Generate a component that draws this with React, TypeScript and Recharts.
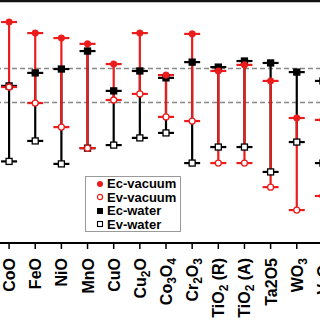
import {
  ComposedChart,
  ErrorBar,
  Legend,
  Line,
  ReferenceLine,
  XAxis,
  YAxis,
} from 'recharts'

// Band edges (eV vs vacuum) for each oxide, in vacuum and in water.
// `_n` in a name marks a subscript digit in the axis label.
const oxides = [
  'CoO', 'FeO', 'NiO', 'MnO', 'CuO', 'Cu_2O', 'Co_3O_4', 'Cr_2O_3',
  'TiO_2 (R)', 'TiO_2 (A)', 'Ta2O5', 'WO_3', 'V_2O_5',
]
const ecVacuum = [-2.76, -3.16, -3.34, -3.55, -4.28, -3.16, -4.68, -3.19, -4.53, -4.31, -4.89, -6.23, -6.3]
const evVacuum = [-5.11, -5.69, -6.56, -7.32, -5.58, -5.36, -6.19, -6.34, -7.86, -7.86, -8.73, -9.56, -9.05]
const ecWater = [-5.07, -4.6, -4.46, -3.81, -5.25, -4.53, -4.78, -4.21, -4.39, -4.17, -4.24, -4.57, -4.89]
const evWater = [-7.8, -7.06, -7.89, -7.32, -7.21, -6.95, -6.77, -7.86, -7.28, -7.28, -8.18, -7.1, -7.86]

// water redox levels: H+/H2 and O2/H2O
const redoxLevels = [-4.44, -5.67]
const yDomain: [number, number] = [-10.75, -2]

const RED = '#ec1c1c'
const FONT = '"Liberation Sans", Arial, sans-serif'

// ErrorBar wants a centre value plus a half-span, so each band is stored as
// its midpoint with a symmetric error.
const data = oxides.map((name, i) => ({
  name,
  ecVac: ecVacuum[i],
  evVac: evVacuum[i],
  ecW: ecWater[i],
  evW: evWater[i],
  vacMid: (ecVacuum[i] + evVacuum[i]) / 2,
  vacErr: (ecVacuum[i] - evVacuum[i]) / 2,
  wMid: (ecWater[i] + evWater[i]) / 2,
  wErr: (ecWater[i] - evWater[i]) / 2,
}))

function OxideTick({ x, y, payload }: any) {
  const parts = String(payload.value).split(/(_\d)/).filter(Boolean)
  const ax = x + 6
  const ay = y + 9
  let sub = false
  return (
    <text
      x={ax}
      y={ay}
      transform={`rotate(-90, ${ax}, ${ay})`}
      textAnchor="end"
      fontFamily={FONT}
      fontWeight="bold"
      fontSize={16}
      fill="#000"
    >
      {parts.map((p, k) => {
        if (p.startsWith('_')) {
          sub = true
          return (
            <tspan key={k} dy={4} fontSize={12}>
              {p.slice(1)}
            </tspan>
          )
        }
        const dy = sub ? -4 : 0
        sub = false
        return (
          <tspan key={k} dy={dy}>
            {p}
          </tspan>
        )
      })}
    </text>
  )
}

const squareDot = (filled: boolean) => (props: any) => {
  const { cx, cy, index } = props
  if (cx == null || cy == null) return <g key={index} />
  return (
    <rect
      key={index}
      x={cx - 3}
      y={cy - 3}
      width={6}
      height={6}
      fill={filled ? '#000' : '#fff'}
      stroke="#000"
      strokeWidth={1.3}
    />
  )
}

const legendItems = [
  { label: 'Ec-vacuum', marker: <circle cx={4} cy={4} r={3} fill={RED} /> },
  { label: 'Ev-vacuum', marker: <circle cx={4} cy={4} r={2.6} fill="#fff" stroke={RED} strokeWidth={1.2} /> },
  { label: 'Ec-water', marker: <rect x={1} y={1} width={6} height={6} fill="#000" /> },
  { label: 'Ev-water', marker: <rect x={1.5} y={1.5} width={5} height={5} fill="#fff" stroke="#000" strokeWidth={1.1} /> },
]

function BandLegend() {
  return (
    <div
      style={{
        width: 96,
        height: 56,
        boxSizing: 'border-box',
        border: '1px solid #9a9a9a',
        background: '#fff',
        fontFamily: FONT,
        fontWeight: 'bold',
        fontSize: 13,
        color: '#000',
      }}
    >
      {legendItems.map((it) => (
        <div key={it.label} style={{ display: 'flex', alignItems: 'center', height: 13.5, lineHeight: '13.5px' }}>
          <svg width={8} height={8} style={{ marginLeft: 10, marginRight: 3 }}>
            {it.marker}
          </svg>
          <span>{it.label}</span>
        </div>
      ))}
    </div>
  )
}

export default function App() {
  return (
    <div style={{ position: 'fixed', left: -4, top: 0, width: 340, height: 320, background: '#fff' }}>
      <ComposedChart width={340} height={320} data={data} margin={{ top: 1, right: 0, bottom: 0, left: 0 }}>
        <XAxis
          dataKey="name"
          scale="band"
          interval={0}
          height={77}
          tickSize={6}
          tickMargin={0}
          axisLine={{ stroke: '#000', strokeWidth: 2 }}
          tickLine={{ stroke: '#000', strokeWidth: 1.5 }}
          tick={<OxideTick />}
        />
        <YAxis hide type="number" domain={yDomain} allowDataOverflow />
        <ReferenceLine y={yDomain[1]} stroke="#111" strokeWidth={2.5} />
        {redoxLevels.map((v) => (
          <ReferenceLine key={v} y={v} stroke="#888" strokeWidth={1.3} strokeDasharray="5 3" />
        ))}

        {/* vertical band spans with end caps */}
        <Line dataKey="wMid" stroke="none" dot={false} activeDot={false} isAnimationActive={false}>
          <ErrorBar dataKey="wErr" direction="y" width={8} stroke="#000" strokeWidth={2.2} isAnimationActive={false} />
        </Line>
        <Line dataKey="vacMid" stroke="none" dot={false} activeDot={false} isAnimationActive={false}>
          <ErrorBar dataKey="vacErr" direction="y" width={8} stroke={RED} strokeWidth={2.2} isAnimationActive={false} />
        </Line>

        {/* band-edge markers */}
        <Line dataKey="ecW" stroke="none" dot={squareDot(true)} activeDot={false} isAnimationActive={false} />
        <Line dataKey="evW" stroke="none" dot={squareDot(false)} activeDot={false} isAnimationActive={false} />
        <Line
          dataKey="ecVac"
          stroke="none"
          dot={{ r: 3.3, fill: RED, stroke: RED, strokeWidth: 0.5 }}
          activeDot={false}
          isAnimationActive={false}
        />
        <Line
          dataKey="evVac"
          stroke="none"
          dot={{ r: 3, fill: '#fff', stroke: RED, strokeWidth: 1.3 }}
          activeDot={false}
          isAnimationActive={false}
        />

        {/* zero-height wrapper so the box floats over the plot without taking layout space */}
        <Legend
          content={<BandLegend />}
          wrapperStyle={{ position: 'absolute', left: 89, top: 176, width: 96, height: 0, overflow: 'visible' }}
        />
      </ComposedChart>
    </div>
  )
}
